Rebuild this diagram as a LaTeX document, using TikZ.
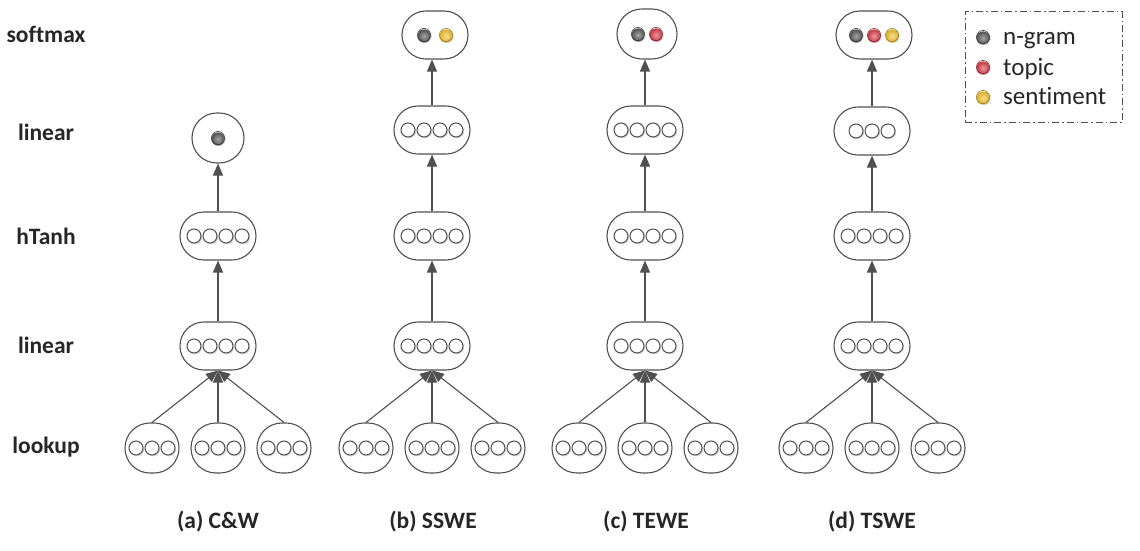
\documentclass[tikz,border=0pt]{standalone}
\usepackage{fontspec}
\setmainfont[Ligatures={NoCommon,TeX}]{Carlito}
\usetikzlibrary{arrows.meta}
\definecolor{ln}{HTML}{505050}
\definecolor{txt}{HTML}{262626}
\tikzset{
 layer/.style={draw=ln, line width=1.1pt, rounded corners=23.9pt, minimum width=76pt, minimum height=48pt, inner sep=0pt, fill=white},
 lk/.style={layer, minimum width=54pt, minimum height=50pt, rounded corners=24.9pt},
 top1/.style={layer, minimum width=52pt, minimum height=50pt, rounded corners=24.9pt},
 lbl/.style={font=\bfseries\fontsize{23.5}{26}\selectfont, text=txt, inner sep=0pt},
 leg/.style={font=\fontsize{25}{28}\selectfont, text=txt, inner sep=0pt, anchor=base west},
 arr/.style={draw=ln, line width=1.1pt, -{Triangle[length=12pt,width=10pt]}},
 legbox/.style={draw=ln, line width=1pt, dash pattern=on 7pt off 3pt on 1.5pt off 3pt, minimum width=157pt, minimum height=110pt, inner sep=0pt},
}
\newcommand\myunits[2]{%
 \foreach \i in {1,...,#2}{%
  \pgfmathsetmacro\dx{(\i-(#2+1)/2)*16}%
  \fill[gray!30] ([xshift=\dx pt+1.2pt, yshift=-1.4pt]#1) circle (7pt);
  \draw[ln, line width=1pt, fill=white] ([xshift=\dx pt]#1) circle (7pt);
 }}
\newcommand\myball[3]{% node, xoffset, color
  \fill[gray!30] ([xshift=#2pt+1.2pt, yshift=-1.4pt]#1) circle (6.6pt);
  \shade[inner color=#3!55!white, outer color=#3!90!black] ([xshift=#2pt, yshift=-1pt]#1) circle (6.6pt);
  \draw[#3!60!black, line width=0.5pt] ([xshift=#2pt]#1) circle (6.6pt);}
\definecolor{bgray}{HTML}{5A5A5A}
\definecolor{bred}{HTML}{D9404E}
\definecolor{byel}{HTML}{F4C230}
\begin{document}
\begin{tikzpicture}[x=1pt,y=-1pt]
\useasboundingbox (0,0) rectangle (1140,551);
% row labels
\node[lbl] (r1) at (46,34) {softmax};
\node[lbl] (r2) at (46,132) {linear};
\node[lbl] (r3) at (46,236) {hTanh};
\node[lbl] (r4) at (46,345) {linear};
\node[lbl] (r5) at (46,447) {lookup};
% column a
\node[lk] (a1) at (152,448) {};
\node[lk] (a2) at (218,448) {};
\node[lk] (a3) at (284,448) {};
\node[layer] (alin) at (218,346) {};
\node[layer] (ah) at (218,236) {};
\node[top1] (ao) at (218,138) {};
\foreach \n in {a1,a2,a3}{\draw[arr] (\n.north) -- (alin.south);}
\draw[arr] (alin.north) -- (ah.south);
\draw[arr] (ah.north) -- (ao.south);
\myunits{a1}{3}\myunits{a2}{3}\myunits{a3}{3}\myunits{alin}{4}\myunits{ah}{4}
\myball{ao}{0}{bgray}
% column b
\node[lk] (b1) at (366,448) {};
\node[lk] (b2) at (432,448) {};
\node[lk] (b3) at (498,448) {};
\node[layer] (blin) at (432,346) {};
\node[layer] (bh) at (432,236) {};
\node[layer] (blin2) at (432,130) {};
\node[layer, minimum width=66pt] (bo) at (435,35) {};
\foreach \n in {b1,b2,b3}{\draw[arr] (\n.north) -- (blin.south);}
\draw[arr] (blin.north) -- (bh.south);
\draw[arr] (bh.north) -- (blin2.south);
\draw[arr] (blin2.north) -- (bo.south -| blin2.north);
\myunits{b1}{3}\myunits{b2}{3}\myunits{b3}{3}\myunits{blin}{4}\myunits{bh}{4}\myunits{blin2}{4}
\myball{bo}{-11}{bgray}\myball{bo}{11}{byel}
% column c
\node[lk] (c1) at (579,448) {};
\node[lk] (c2) at (645,448) {};
\node[lk] (c3) at (711,448) {};
\node[layer] (clin) at (645,346) {};
\node[layer] (ch) at (645,236) {};
\node[layer] (clin2) at (645,130) {};
\node[layer, minimum width=60pt, minimum height=50pt, rounded corners=24.9pt] (co) at (647,34) {};
\foreach \n in {c1,c2,c3}{\draw[arr] (\n.north) -- (clin.south);}
\draw[arr] (clin.north) -- (ch.south);
\draw[arr] (ch.north) -- (clin2.south);
\draw[arr] (clin2.north) -- (co.south -| clin2.north);
\myunits{c1}{3}\myunits{c2}{3}\myunits{c3}{3}\myunits{clin}{4}\myunits{ch}{4}\myunits{clin2}{4}
\myball{co}{-9}{bgray}\myball{co}{9}{bred}
% column d
\node[lk] (d1) at (806,448) {};
\node[lk] (d2) at (872,448) {};
\node[lk] (d3) at (938,448) {};
\node[layer] (dlin) at (872,346) {};
\node[layer] (dh) at (872,236) {};
\node[layer] (dlin2) at (872,131) {};
\node[layer] (do) at (874,35) {};
\foreach \n in {d1,d2,d3}{\draw[arr] (\n.north) -- (dlin.south);}
\draw[arr] (dlin.north) -- (dh.south);
\draw[arr] (dh.north) -- (dlin2.south);
\draw[arr] (dlin2.north) -- (do.south -| dlin2.north);
\myunits{d1}{3}\myunits{d2}{3}\myunits{d3}{3}\myunits{dlin}{4}\myunits{dh}{4}\myunits{dlin2}{3}
\myball{do}{-18}{bgray}\myball{do}{0}{bred}\myball{do}{18}{byel}
% captions
\node[lbl] (capa) at (218,522) {(a) C\&W};
\node[lbl] (capb) at (433,522) {(b) SSWE};
\node[lbl] (capc) at (646,522) {(c) TEWE};
\node[lbl] (capd) at (872,522) {(d) TSWE};
% legend
\node[legbox] (legend) at (1043.5,67) {};
\coordinate (g1) at (983,37);
\coordinate (g2) at (983,67);
\coordinate (g3) at (983,97);
\myball{g1}{0}{bgray}\myball{g2}{0}{bred}\myball{g3}{0}{byel}
\node[leg] (t1) at (1003,45) {n-gram};
\node[leg] (t2) at (1003,75) {topic};
\node[leg] (t3) at (1003,104) {sentiment};
\end{tikzpicture}
\end{document}
